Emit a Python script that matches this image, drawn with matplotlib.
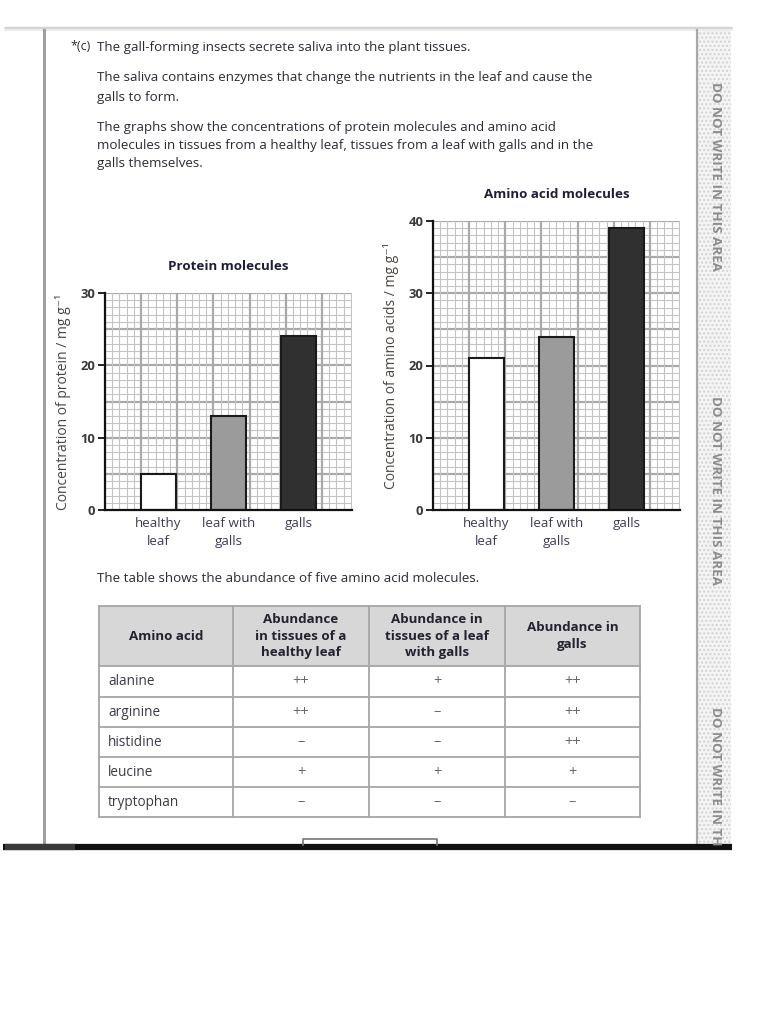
import matplotlib
matplotlib.use('Agg')
import matplotlib.pyplot as plt
from matplotlib.patches import Rectangle
import numpy as np

plt.rcParams['font.family'] = ['Open Sans', 'DejaVu Sans']

# ---------------- data ----------------
categories = ['healthy\nleaf', 'leaf with\ngalls', 'galls']
protein_values = [5, 13, 24]
amino_values = [21, 24, 39]
bar_colors = ['#ffffff', '#9b9b9b', '#303030']
protein_yticks = [0, 10, 20, 30]
amino_yticks = [0, 10, 20, 30, 40]

table_columns = ['Amino acid', 'Abundance\nin tissues of a\nhealthy leaf',
                 'Abundance in\ntissues of a leaf\nwith galls', 'Abundance in\ngalls']
amino_acids = ['alanine', 'arginine', 'histidine', 'leucine', 'tryptophan']
abund_healthy = ['++', '++', '\u2013', '+', '\u2013']
abund_leaf_galls = ['+', '\u2013', '\u2013', '+', '\u2013']
abund_galls = ['++', '++', '++', '+', '\u2013']

intro_lines = [
    'The gall-forming insects secrete saliva into the plant tissues.',
    'The saliva contains enzymes that change the nutrients in the leaf and cause the',
    'galls to form.',
    'The graphs show the concentrations of protein molecules and amino acid',
    'molecules in tissues from a healthy leaf, tissues from a leaf with galls and in the',
    'galls themselves.',
]
table_intro = 'The table shows the abundance of five amino acid molecules.'
margin_texts = ['DO NOT WRITE IN THIS AREA', 'DO NOT WRITE IN THIS AREA', 'DO NOT WRITE IN TH']

# ---------------- figure ----------------
W, H = 768, 1024
fig = plt.figure(figsize=(W / 100, H / 100), dpi=100)
bg = fig.add_axes([0, 0, 1, 1])
bg.set_xlim(0, W)
bg.set_ylim(H, 0)
bg.axis('off')

TXT = '#2b2b35'
FS = 9.6

# page frame
bg.plot([4, 732], [28, 28], color='#d4d4d4', lw=2.5, solid_capstyle='butt')
bg.plot([4, 732], [30, 30], color='#ececec', lw=1.5, solid_capstyle='butt')
bg.plot([44, 44], [30, 845], color='#a0a0a0', lw=2.2)
bg.plot([697, 697], [30, 845], color='#a8a8a8', lw=1.6)
band = Rectangle((698, 30), 33, 815, facecolor='#f4f4f4', edgecolor='#d2d2d2',
                 hatch='....', lw=0)
bg.add_patch(band)
for txt, yc, va in zip(margin_texts, [176, 490, 707], ['center', 'center', 'top']):
    bg.text(716, yc, txt, rotation=-90, ha='center', va=va,
            fontsize=9.6, fontweight='bold', color='#8c8c8c')
bg.plot([3, 732], [847, 847], color='#111111', lw=4.5, solid_capstyle='butt')
bg.plot([5, 75], [847, 847], color='#3a3a3a', lw=4.5, solid_capstyle='butt')
bg.plot([303, 303, 437, 437], [845, 839, 839, 845], color='#777777', lw=1.2)

# intro text
bg.text(70, 47, '*(c)', fontsize=FS - 0.6, color=TXT, va='center', ha='left')
for txt, yc in zip(intro_lines, [47, 78, 97, 127, 145, 163]):
    bg.text(97, yc, txt, fontsize=FS, color=TXT, va='center', ha='left')
bg.text(97, 578, table_intro, fontsize=FS, color=TXT, va='center', ha='left')

# ---------------- charts ----------------
def px_axes(left, top, right, bottom):
    return fig.add_axes([left / W, 1 - bottom / H, (right - left) / W, (bottom - top) / H])


def draw_chart(ax, values, ymax, yticks, title, ylabel):
    n = len(values)
    x = np.arange(n)
    x0, x1 = -0.76, n - 1 + 0.76
    ax.set_xlim(x0, x1)
    ax.set_ylim(0, ymax)
    ax.set_facecolor('white')
    minor_c, major_c = '#c4c4c4', '#a9a9a9'
    for yv in range(1, ymax + 1):
        heavy = yv % 5 == 0
        ax.axhline(yv, color=major_c if heavy else minor_c,
                   lw=1.6 if heavy else 0.8, zorder=1)
    step = 7.23 / 247.0
    k = 1
    while k * step < 1.0:
        heavy = k % 5 == 0
        ax.axvline(x0 + k * step * (x1 - x0),
                   color=major_c if heavy else minor_c,
                   lw=1.6 if heavy else 0.8, zorder=1)
        k += 1
    ax.bar(x, values, width=0.5, color=bar_colors, edgecolor='#1a1a1a',
           linewidth=1.5, zorder=3)
    for s in ['top', 'right']:
        ax.spines[s].set_visible(False)
    for s in ['left', 'bottom']:
        ax.spines[s].set_linewidth(1.6)
        ax.spines[s].set_color('#111111')
        ax.spines[s].set_zorder(4)
    ax.set_yticks(yticks)
    ax.set_yticklabels([str(v) for v in yticks], fontsize=9.4, fontweight='bold',
                       color='#3a3a3a')
    ax.tick_params(axis='y', length=5, width=1.3, pad=2, color='#111111')
    ax.set_xticks(x)
    ax.set_xticklabels(categories, fontsize=9.6, color='#3d3d5a', linespacing=1.5)
    ax.tick_params(axis='x', length=0, pad=5)
    ax.annotate(title, xy=(0.5, 1), xycoords='axes fraction', xytext=(0, 26 * 0.72),
                textcoords='offset points', ha='center', va='center',
                fontsize=9.6, fontweight='bold', color='#1e1e3a')
    ax.text(-42 / 247, 0.5, ylabel, transform=ax.transAxes, rotation=90,
            ha='center', va='center', fontsize=10, color='#4a4540')


ax1 = px_axes(105, 293, 352, 510)
draw_chart(ax1, protein_values, 30, protein_yticks, 'Protein molecules',
           'Concentration of protein / mg g\u207b\u00b9')
ax2 = px_axes(433, 221, 680, 510)
draw_chart(ax2, amino_values, 40, amino_yticks, 'Amino acid molecules',
           'Concentration of amino acids / mg g\u207b\u00b9')

# ---------------- table ----------------
col_edges = [99, 233, 369, 505, 640]
row_edges = [606, 666, 697, 727, 757, 787, 817]
bg.add_patch(Rectangle((col_edges[0], row_edges[0]), col_edges[-1] - col_edges[0],
                       row_edges[1] - row_edges[0], facecolor='#d7d7d7', lw=0))
for xe in col_edges:
    bg.plot([xe, xe], [row_edges[0], row_edges[-1]], color='#a6a6a6', lw=1.3)
for ye in row_edges:
    bg.plot([col_edges[0], col_edges[-1]], [ye, ye], color='#a6a6a6', lw=1.3)

hy = (row_edges[0] + row_edges[1]) / 2
for j, head in enumerate(table_columns):
    xc = (col_edges[j] + col_edges[j + 1]) / 2
    bg.text(xc, hy, head, ha='center', va='center', fontsize=9.6,
            fontweight='bold', color='#222230', linespacing=1.35)

for i, name in enumerate(amino_acids):
    yc = (row_edges[i + 1] + row_edges[i + 2]) / 2
    bg.text(108, yc, name, ha='left', va='center', fontsize=9.8, color='#3a3a4a')
    for j, col in enumerate([abund_healthy, abund_leaf_galls, abund_galls]):
        xc = (col_edges[j + 1] + col_edges[j + 2]) / 2
        bg.text(xc, yc, col[i], ha='center', va='center', fontsize=10.5,
                color='#6a6a6a')

fig.savefig('out.png', dpi=100, facecolor='white')
